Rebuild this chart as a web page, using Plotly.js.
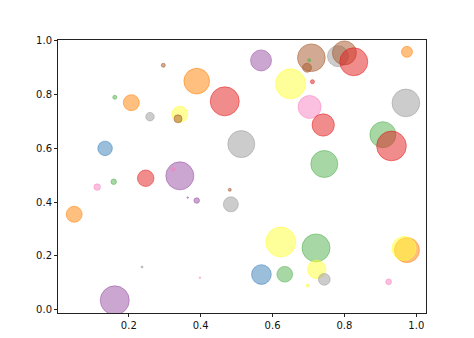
<!DOCTYPE html>
<html>
<head>
<meta charset="utf-8">
<script src="https://cdn.plot.ly/plotly-3.0.1.min.js"></script>
<style>html,body{margin:0;padding:0;background:#fff;}#chart{width:474px;height:338px;}</style>
</head>
<body>
<div id="chart"></div>
<script>
// Data
const xValues = [0.296,0.161,0.207,0.259,0.134,0.342,0.337,0.247,0.342,0.323,
                 0.112,0.158,0.048,0.237,0.161,0.364,0.389,0.481,0.484,0.398,
                 0.623,0.569,0.634,0.721,0.723,0.744,0.698,0.923,0.974,0.966,
                 0.568,0.389,0.467,0.513,0.650,0.708,0.702,0.696,0.782,0.800,
                 0.826,0.711,0.974,0.971,0.703,0.741,0.907,0.931,0.744];
const yValues = [0.909,0.790,0.770,0.718,0.600,0.727,0.710,0.489,0.498,0.522,
                 0.456,0.476,0.355,0.159,0.035,0.417,0.406,0.446,0.392,0.119,
                 0.252,0.131,0.132,0.230,0.150,0.113,0.090,0.104,0.222,0.228,
                 0.927,0.850,0.775,0.616,0.840,0.937,0.928,0.900,0.943,0.955,
                 0.922,0.848,0.959,0.769,0.754,0.687,0.651,0.609,0.542];
const bubbleSizes = [5,5,17,9.5,15.5,17,9,17.5,29,5,
                     7.5,6.5,17,3,30,2,6.5,4,16,2.5,
                     31,20.7,16.7,29,19.5,12.7,4,6.7,26,25,
                     22,26.7,30,28,31,28.7,4,10,22,25,
                     29,5,12,28.7,24,23.3,27,30.7,28];
const colorGroups = ['brown','green','orange','grey','blue','yellow','brown','red','purple','pink',
                     'pink','green','orange','grey','purple','purple','purple','brown','grey','pink',
                     'yellow','blue','green','green','yellow','grey','yellow','pink','orange','yellow',
                     'purple','orange','red','grey','yellow','brown','green','brown','grey','brown',
                     'red','red','orange','grey','pink','red','green','red','green'];
const xTicks = [0.2,0.4,0.6,0.8,1.0];
const xTickLabels = ['0.2','0.4','0.6','0.8','1.0'];
const yTicks = [0.0,0.2,0.4,0.6,0.8,1.0];
const yTickLabels = ['0.0','0.2','0.4','0.6','0.8','1.0'];

const palette = {
  red:[228,26,28], blue:[55,126,184], green:[77,175,74], purple:[152,78,163],
  orange:[255,127,0], yellow:[255,255,51], brown:[166,86,40], pink:[247,129,191], grey:[153,153,153]
};
const rgba = (c,a) => 'rgba(' + palette[c].join(',') + ',' + a + ')';
const fill = colorGroups.map(c => rgba(c,0.5));
const edge = colorGroups.map(c => rgba(c,0.5));

const trace = {
  type:'scatter', mode:'markers',
  x:xValues, y:yValues,
  marker:{size:bubbleSizes.map(s => Math.max(s-1,1.5)), color:fill, opacity:1, line:{color:edge, width:1}},
  hoverinfo:'skip'
};

const axisCommon = {
  showgrid:false, zeroline:false, showline:true, mirror:true,
  linecolor:'#222', linewidth:1, ticks:'outside', ticklen:3, tickwidth:1, tickcolor:'#222',
  tickfont:{family:'DejaVu Sans', size:10, color:'#111'}
};

const layout = {
  width:474, height:338,
  margin:{l:58, r:48, t:40, b:25},
  paper_bgcolor:'#fff', plot_bgcolor:'#fff',
  showlegend:false,
  xaxis:Object.assign({}, axisCommon, {range:[0.003,1.027], tickvals:xTicks, ticktext:xTickLabels}),
  yaxis:Object.assign({}, axisCommon, {range:[-0.012,1.003], tickvals:yTicks, ticktext:yTickLabels})
};

Plotly.newPlot('chart',[trace],layout,{displayModeBar:false, staticPlot:true});
</script>
</body>
</html>
